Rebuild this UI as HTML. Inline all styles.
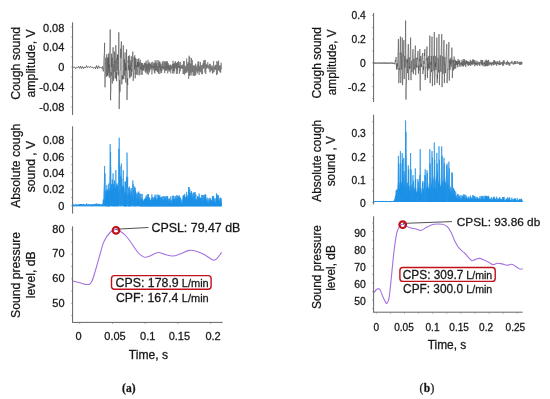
<!DOCTYPE html>
<html lang="en">
<head>
<meta charset="utf-8">
<title>Cough sound figure</title>
<style>
html,body{margin:0;padding:0;background:#fff;}
body{width:550px;height:399px;overflow:hidden;}
svg{display:block;font-family:"Liberation Sans",sans-serif;fill:#141414;}
text{stroke:#222;stroke-width:0.28px;}
</style>
</head>
<body>
<svg width="550" height="399" viewBox="0 0 550 399">
<rect x="0" y="0" width="550" height="399" fill="#fff"/>
<line x1="72.6" y1="22.3" x2="72.6" y2="115" stroke="#646464" stroke-width="1"/>
<path d="M72.2,27h-1.2M72.2,37h-1.2M72.2,47h-1.2M72.2,57h-1.2M72.2,67h-1.2M72.2,77h-1.2M72.2,87h-1.2M72.2,97h-1.2M72.2,107h-1.2" stroke="#646464" stroke-width="0.7" opacity="0.7"/>
<text x="64.3" y="31.7" text-anchor="end" font-size="11">0.08</text>
<text x="64.3" y="51.4" text-anchor="end" font-size="11">0.04</text>
<text x="64.3" y="71.2" text-anchor="end" font-size="11">0</text>
<text x="64.3" y="90.9" text-anchor="end" font-size="11">-0.04</text>
<text x="64.3" y="110.7" text-anchor="end" font-size="11">-0.08</text>
<text transform="translate(19.8,63.4) rotate(-90)" text-anchor="middle" font-size="12.25">Cough sound</text>
<text transform="translate(35.1,63.4) rotate(-90)" text-anchor="middle" font-size="12.25">amplitude, V</text>
<polyline points="72.6,66.3 73.3,67.2 73.6,67.5 74.1,67.3 74.6,67 74.8,67.4 75.6,68.5 76.3,67.4 76.6,67 77.1,67.4 77.6,67.8 77.8,67.4 78.6,66.3 79.3,67.9 79.6,68.4 80.1,67.2 80.6,66 80.8,66.7 81.6,68.6 82.3,67 82.6,66.5 83.1,67.5 83.6,68.6 83.8,68.2 84.6,66.9 85.3,67.7 85.6,68 86.1,66.8 86.6,65.6 86.8,66.1 87.6,67.7 88.3,67 88.6,66.7 89.1,67.3 89.6,67.9 89.8,67.5 90.6,66.2 91.3,67.1 91.6,67.4 92.1,67.3 92.6,67.1 92.8,67.4 93.6,68.3 94.3,67.2 94.6,66.9 95.1,67.8 95.6,68.8 95.8,68 96.6,65.6 97.3,67.8 97.6,68.6 98.1,67.2 98.6,65.8 98.8,66.4 99.6,68.2 100.3,67.4 100.6,67.1 101.1,67.7 101.6,68.3 101.8,67.8 102.5,66.5 102.6,66.8 102.9,69.6 103.3,71.1" fill="none" stroke="#525252" stroke-width="0.85" stroke-linejoin="round" />
<polyline points="103.3,71.1 103.3,71.4 103.6,67.7 103.9,57.6 104.1,55.9 104.4,52.3 104.6,42.8 104.6,52.5 104.9,69 105,87.3 105.1,82 105.3,63.7 105.6,64.1 105.6,62 105.8,57.7 106.1,72.6 106.3,74.4 106.3,77 106.5,70.1 106.8,56 106.8,54.3 107,73.5 107.2,75.3 107.3,73.4 107.5,75.1 107.7,57.9 108,76.1 108.2,57.1 108.5,67.8 108.6,57.1 108.7,53.5 108.9,72.7 109.2,64.5 109.3,77.7 109.4,77.1 109.7,51.5 109.9,47.9 110.1,38.6 110.2,29.5 110.4,69 110.6,100.3 110.6,92.5 110.9,91.2 111.1,72.1 111.3,75.7 111.6,54 111.6,53.7 111.8,67.1 112.1,57.6 112.3,83.5 112.3,83.2 112.5,65.6 112.8,62.8 113,49.9 113.1,47.3 113.3,65 113.5,78.8 113.5,80.8 113.7,78.8 114,64 114.2,71.8 114.5,51.6 114.6,55.1 114.7,63.5 114.9,60.8 115.2,78.3 115.3,74.3 115.4,64.7 115.7,64.2 115.8,45.3 115.9,49.8 116.1,78.8 116.2,78.3 116.4,72.3 116.6,81.2 116.9,58.3 117.1,70.8 117.3,54.3 117.6,59.3 117.6,58 117.8,55 118.1,73.7 118.3,72.2 118.3,75.6 118.5,62 118.8,40.1 118.8,32.3 119,81.6 119.2,109 119.3,98.7 119.5,96.9 119.7,80 120,91.7 120.2,70.1 120.5,70.2 120.6,56.6 120.7,48.7 120.9,58.2 121.2,45.3 121.4,41.3 121.4,49.9 121.7,59.3 121.8,84.3 121.9,80.3 122.1,75.3 122.4,79.3 122.6,76.1 122.8,78.3 122.9,78.3 123.1,57.3 123.3,45.3 123.3,50.6 123.6,68.5 123.7,79.3 123.8,78.5 124.1,70.7 124.3,75.4 124.5,59.3 124.8,70.7 125,52.4 125.1,56.1 125.3,70.5 125.5,63.2 125.7,82.5 125.8,79.1 126,66.7 126.2,70.4 126.5,52.6 126.6,49.3 126.7,71.6 126.9,84.3 127,100 127.2,91.1 127.4,78.3 127.7,84.9 127.9,64.7 128.1,60.7 128.1,62.2 128.4,56.1 128.6,69.2 128.8,65.8 128.9,65.1 129.1,70.7 129.3,57.3 129.4,55.3 129.6,71.1 129.8,78.3 129.8,69.1 130.1,76.8 130.3,66.4 130.5,69.9 130.8,60.6 131,67.2 131.1,61.7 131.3,56.3 131.5,76.3 131.7,69 131.8,71.7 132,70.2 132.2,62.7 132.5,61.1 132.7,55 132.8,51.6 132.9,66.9 133.2,74.2 133.2,80.8 133.4,77.7 133.7,73 133.9,73.5 134.1,56.9 134.4,69.4 134.6,57.1 134.8,55.3 134.9,60.8 135.1,64.5 135.2,78.3 135.3,75.9 135.6,58 135.6,58.1 135.8,66.5 136.1,65 136.3,74.6 136.3,74 136.5,66.2 136.8,67 137,58.9 137.1,59 137.3,66.1 137.5,62.2 137.8,75 137.8,73.4 138.1,62.4 138.3,67.2 138.6,59.6 138.8,58.3 138.8,66 139.1,68.3 139.2,75.3 139.4,74.4 139.7,62.5 139.9,66.2 140.1,59.8 140.2,59.8 140.5,69.4 140.8,66.4 140.8,69.6 141.1,74.8" fill="none" stroke="#525252" stroke-width="0.62" stroke-linejoin="round" />
<polyline points="141.1,74.8 141.4,62.6 141.6,68.1 141.7,70 141.9,63.5 142.2,74.8 142.3,72.4 142.5,63.1 142.8,70.6 143.1,65.1 143.1,64.6 143.4,70.2 143.7,65 143.8,67.6 144,70.8 144.3,62.8 144.6,66.7 144.6,67.8 144.9,63.1 145.3,72.2 145.3,69.4 145.6,62.6 145.9,72.7 146.1,62.7 146.2,60.8 146.5,70.4 146.8,64.1 146.8,67.4 147.1,74.2 147.4,64.2 147.6,70.7 147.7,72.5 148,59.9 148.3,74.8 148.3,71.7 148.6,63.3 148.9,69.7 149.1,63.7 149.2,62.1 149.5,72.5 149.8,63.5 149.8,65.4 150.1,70.3 150.4,63.6 150.6,66.8 150.7,68 151,64.8 151.3,68.8 151.3,67.4 151.6,62.3 151.9,74.5 152.1,68.5 152.2,65.8 152.5,67.9 152.8,61.7 152.8,63.1 153.1,70.2 153.4,63.4 153.6,66.4 153.7,68.1 154,65.7 154.3,72.5 154.3,71.4 154.6,62.7 154.9,73.6 155.1,65.7 155.2,60.2 155.5,70.2 155.8,62.6 155.8,63.1 156.1,70.8 156.4,63.4 156.6,67.1 156.7,70.4 157,60.2 157.3,71.9 157.4,72 157.7,66 158,72.5 158.1,66.9 158.3,60.3 158.6,73.8 158.8,64 158.9,63.1 159.2,67.8 159.5,61.4 159.6,66.2 159.8,74 160.1,61.9 160.3,69.2 160.4,70.6 160.7,64.3 161,72.8 161.1,70.8 161.3,66.2 161.6,73 161.8,65.9 161.9,63.5 162.2,68.1 162.5,61.3 162.6,63.2 162.8,70.3 163.1,66.2 163.3,68 163.5,68.8 163.8,61.1 164.1,68.8 164.1,68 164.4,61.6 164.7,73.2 164.8,69.3 165,66.3 165.3,70.6 165.6,61.6 165.6,61.6 165.9,71 166.2,61 166.3,65.2 166.5,70.3 166.8,62.6 167.1,68.5 167.1,69.1 167.4,61.2 167.7,73.4 167.8,69.9 168.1,63.1 168.4,69.9 168.6,65.7 168.7,64.6 169,71.7 169.3,66.1 169.3,67.2 169.6,71.2 169.9,64.9 170.1,68.3 170.2,70 170.5,64.7 170.8,73.4 170.8,72.6 171.1,65.7 171.4,69.3 171.6,67.4 171.7,65.8 172.1,67.8 172.3,64.2 172.4,64 172.7,73.4 173,60.8 173.1,64.8 173.3,71 173.6,64.1 173.8,71.9 173.9,73.6 174.2,63.3 174.5,71.4 174.6,69.2 174.8,62.5 175.1,68.2 175.3,63.5 175.4,61.2 175.8,68.4 176.1,63.3 176.1,64.4 176.4,74 176.7,63.2 176.8,66.8 177,70 177.3,62 177.6,73.2 177.6,73.8 177.9,62.7 178.2,68 178.3,65.5 178.5,60.9 178.9,67.8 179.1,63.8 179.2,62.3 179.5,73.8 179.8,65.9 179.9,65.9 180.2,71.3 180.5,61.9 180.6,63.3 180.9,68.9 181.2,65.1 181.3,66.1 181.6,68.2 182,65.7 182.1,66.8 182.3,68.6 182.7,64.6 182.8,68.2 183.1,73.9 183.5,61.1 183.6,65.6 183.9,74.2 184.3,61.1 184.3,64.3 184.7,74.8 185.1,65.5 185.1,66.3 185.5,72.9 185.8,66.7 185.9,66.6 186.3,72.5 186.6,60.6 186.7,58.5 187.1,72.6 187.3,66.1 187.5,63.6 187.9,71 188.1,65.7 188.3,62 188.7,78.9 188.8,68.5 189.1,55.7 189.5,75.7 189.6,70 189.9,57.2 190.3,75.4 190.3,73.4 190.7,63.7 191.1,72.8 191.1,72.3 191.5,58.1 191.8,73.6 191.9,75.6 192.3,60.1 192.6,69 192.7,72.1 193.1,65.7 193.3,71.6 193.5,75.5 193.9,65.1 194.1,69.9 194.3,75.8 194.7,65.8 194.8,68.8 195.1,75.9 195.5,63.7 195.6,65.3 195.9,74.6 196.3,66.9 196.4,66.8 196.8,71.5 197.1,65.9 197.2,64.7 197.6,73.5 197.8,65.4 198,61.5 198.4,71.4 198.6,66.2 198.8,61.5 199.2,75 199.3,71.9 199.6,66.2 200,71.7 200.1,69.8 200.4,62 200.8,72.3 200.8,72.1 201.2,65 201.6,72.9 201.7,74.2 202.1,65.1 202.3,71.4 202.5,74.1 202.9,63.3 203.1,66.2 203.3,68.8 203.7,60.4 203.8,63.2 204.1,68.3 204.5,60.5 204.6,62.7 204.9,72.6 205.3,59.9 205.3,59.9 205.8,74.1 206.1,65.5 206.2,63.8 206.6,68.7 206.8,66.2 207,64.9 207.4,67.7 207.6,65.1 207.8,62.1 208.2,68.3 208.3,67.5 208.6,65.6 209.1,69.4 209.1,68.9 209.5,64.1 209.8,71.7 209.9,72.4 210.3,63.8 210.6,69.2 210.7,71.3 211.1,66.2 211.3,68.4 211.5,70.2 212,65.3 212.1,68.2 212.4,73.5 212.8,66.7 212.8,67.7 213.2,72.8 213.6,61.5 213.6,61 214,72.1 214.3,67.8 214.4,66.5 214.9,69.8 215.1,67.1 215.3,64.9 215.7,69.8 215.8,68 216.1,64.8 216.5,75.1 216.6,72.8 216.9,61 217.3,73.7 217.4,74.2 217.8,61.8 218.1,68.1 218.2,70.1 218.6,60.5 218.8,66.2 219,70.9 219.5,65.7 219.6,68 219.9,72.3 220.3,65.4 220.3,66.3 220.7,72.6 221.1,63.5 221.1,62.6 221.6,69.3" fill="none" stroke="#5c5c5c" stroke-width="0.56" stroke-linejoin="round" />
<line x1="72.6" y1="126.3" x2="72.6" y2="213.6" stroke="#646464" stroke-width="1"/>
<path d="M72.2,140.1h-1.2M72.2,148.3h-1.2M72.2,156.5h-1.2M72.2,164.7h-1.2M72.2,172.9h-1.2M72.2,181.1h-1.2M72.2,189.3h-1.2M72.2,197.5h-1.2M72.2,205.7h-1.2" stroke="#646464" stroke-width="0.7" opacity="0.7"/>
<text x="64.3" y="144.1" text-anchor="end" font-size="11">0.08</text>
<text x="64.3" y="160.5" text-anchor="end" font-size="11">0.06</text>
<text x="64.3" y="176.9" text-anchor="end" font-size="11">0.04</text>
<text x="64.3" y="193.3" text-anchor="end" font-size="11">0.02</text>
<text x="64.3" y="209.6" text-anchor="end" font-size="11">0</text>
<text transform="translate(19.9,165.8) rotate(-90)" text-anchor="middle" font-size="12.2">Absolute cough</text>
<text transform="translate(34.7,166.5) rotate(-90)" text-anchor="middle" font-size="12.2">sound , V</text>
<polygon points="72.6,206.2 72.6,204.9 73,204.6 73.5,204 74,204.9 74.4,204.7 74.9,204.9 75.3,204.6 75.8,204.1 76.2,204.6 76.7,204.2 77.1,204.9 77.6,203.9 78,204.8 78.5,204.7 78.9,204.3 79.4,203.9 79.8,204 80.3,203.7 80.7,204 81.2,204.5 81.6,204.4 82.1,204.1 82.5,204.6 83,203.9 83.4,203.8 83.9,204 84.3,204.3 84.8,204.7 85.2,204.6 85.7,204.6 86.1,204.5 86.6,204.4 87,204.3 87.5,204.7 87.9,204 88.4,204 88.8,203.9 89.3,204.6 89.7,204.2 90.2,204.1 90.6,204.5 91.1,204.4 91.5,203.9 92,204.2 92.4,203.8 92.9,204.3 93.3,203.9 93.8,203.9 94.2,204 94.7,203.8 95.1,204.1 95.6,204.4 96,204.6 96.5,203.9 96.9,204.8 97.4,204.4 97.8,204.7 98.3,204.2 98.7,203.8 99.2,204.5 99.6,203.9 100.1,204 100.5,204.1 101,204.6 101.4,203.9 101.9,204.4 102.3,204 102.8,204.4 103.2,201.3 103.7,199.2 104.1,199.6 104.6,197.9 105,192.5 105.5,195.5 105.9,194.9 106.4,197.3 106.8,191.5 107.3,189.3 107.7,187.7 108.2,194.1 108.6,186.8 109.1,193.5 109.5,190.9 110,190.4 110.4,187.7 110.9,187.9 111.3,187.1 111.8,186.7 112.2,181.1 112.7,189.9 113.1,190.4 113.6,182.4 114,189 114.5,184.1 114.9,180.7 115.4,192 115.8,182.5 116.3,192.4 116.7,186 117.2,186.9 117.6,183.4 118.1,182.2 118.5,192.4 119,192.3 119.4,185.9 119.9,185.1 120.3,192.3 120.8,187.2 121.2,193 121.7,189.8 122.1,184.5 122.6,186.4 123,188.4 123.5,191.2 123.9,186.9 124.4,189.2 124.8,196.6 125.3,190.5 125.7,191.8 126.2,193 126.6,193.7 127.1,194.6 127.5,195.6 128,192 128.4,192.8 128.9,197.4 129.3,193.3 129.8,193.5 130.2,194.1 130.7,197.8 131.1,197.3 131.6,197.8 132,193.9 132.5,193.9 132.9,196 133.4,199.2 133.8,199.3 134.3,198.1 134.7,199.7 135.2,197.6 135.6,199.1 136.1,200.1 136.5,199.8 137,199.2 137.4,197.6 137.9,199.6 138.3,198.7 138.8,199.7 139.2,201 139.7,201.1 140.1,200.4 140.6,200.7 141,201.5 141.5,198.5 141.9,199.8 142.4,200.8 142.8,198.5 143.3,200.5 143.7,201.1 144.2,200.4 144.6,199 145.1,200.6 145.5,200.7 146,198 146.4,199.4 146.9,198.5 147.3,197.8 147.8,200.6 148.2,199.4 148.7,201.1 149.1,197.4 149.6,198.1 150,198.8 150.5,200.8 150.9,197.3 151.4,201.5 151.8,199.8 152.3,197.5 152.7,200.3 153.2,198.2 153.6,197.3 154.1,198.5 154.5,200.3 155,197.3 155.4,199.9 155.9,197.4 156.3,201.1 156.8,197.5 157.2,198.3 157.7,201.5 158.1,198.7 158.6,200.7 159,199.4 159.5,199.4 159.9,201.2 160.4,198 160.8,197.4 161.3,199.1 161.7,199.9 162.2,198.7 162.6,199.9 163.1,199 163.5,199.8 164,201 164.4,197.9 164.9,200.1 165.3,201.2 165.8,201.5 166.2,199.6 166.7,201.1 167.1,198.5 167.6,201.4 168,201.7 168.5,201.3 168.9,198.1 169.4,198.5 169.8,197.8 170.3,198.1 170.7,200.7 171.2,199.4 171.6,199.3 172.1,200.4 172.5,200 173,200.5 173.4,201.3 173.9,198.3 174.3,198.4 174.8,201.7 175.2,200.6 175.7,200.5 176.1,198.1 176.6,199.4 177,199.6 177.5,200.5 177.9,199 178.4,197.8 178.8,197.2 179.3,201.6 179.7,199.3 180.2,201.5 180.6,197.7 181.1,198.5 181.5,199.5 182,199.8 182.4,200.9 182.9,196.6 183.3,196.3 183.8,196 184.2,195.9 184.7,200.6 185.1,195.8 185.6,200.4 186,194.9 186.5,196 186.9,195.1 187.4,195.7 187.8,194.6 188.3,195.5 188.7,194.3 189.2,199.7 189.6,195.4 190.1,194.2 190.5,194.2 191,199.7 191.4,197.2 191.9,196.8 192.3,199.1 192.8,198.1 193.2,196 193.7,195.5 194.1,197.4 194.6,196.4 195,200.5 195.5,198.9 195.9,200.8 196.4,200.3 196.8,198.5 197.3,197.8 197.7,199.8 198.2,198 198.6,196.8 199.1,197.4 199.5,198.3 200,197.7 200.4,199.5 200.9,198.1 201.3,197.7 201.8,201 202.2,201 202.7,199.5 203.1,197.1 203.6,199.1 204,196.9 204.5,199.7 204.9,199.7 205.4,196.8 205.8,199.3 206.3,198.7 206.7,197.3 207.2,199.6 207.6,201.2 208.1,198.4 208.5,199.6 209,199.1 209.4,199.9 209.9,198.1 210.3,198.9 210.8,197.4 211.2,199.6 211.7,200.2 212.1,198.8 212.6,197.7 213,196.9 213.5,200.2 213.9,201.1 214.4,199.6 214.8,197.9 215.3,198.6 215.7,198 216.2,199.2 216.6,200.1 217.1,198.9 217.5,198.4 218,199 218.4,201.7 218.9,200.5 219.3,200 219.8,200.6 220.2,201.4 220.7,199.3 221.1,202.1 221.6,200.3 221.6,206.2" fill="#1b8fe6" fill-opacity="0.75"/>
<polyline points="72.6,204.6 73.3,206.1 73.4,206.2 73.6,205.8 74.1,206.2 74.1,206.2 74.6,205.8 74.8,206.2 74.8,206 75.6,204.3 76.3,206 76.4,206.2 76.6,205.8 77,206.2 77.1,206 77.6,205.4 77.8,206 77.9,206.2 78.6,204.6 79.1,206.2 79.3,205.2 79.6,204.4 80.1,206.2 80.1,206.1 80.6,204.1 80.8,205.2 81.1,206.2 81.6,204 82.2,206.2 82.3,205.7 82.6,204.8 83,206.2 83.1,205.8 83.6,204 83.8,204.7 84.4,206.2 84.6,205.5 85,206.2 85.3,205.6 85.6,205.1 85.9,206.2 86.1,205.3 86.6,203.4 86.8,204.3 87.4,206.2 87.6,205.5 88,206.2 88.3,205.7 88.6,205.3 89.1,206.2 89.1,206.2 89.6,205.2 89.8,205.9 90,206.2 90.6,204.5 91.3,205.9 91.5,206.2 91.6,206 92,206.2 92.1,206.2 92.6,205.9 92.7,206.2 92.8,206 93.6,204.5 94.3,206.2 94.3,206.1 94.6,205.5 94.8,206.2 95.1,205.4 95.6,203.8 95.8,205.1 96.1,206.2 96.6,203.4 97.2,206.2 97.3,205.3 97.6,204.1 98.1,206.2 98.1,206 98.6,203.8 98.8,204.7 99.2,206.2 99.6,204.7 100.3,206.1 100.4,206.2 100.6,205.9 100.8,206.2 101.1,205.6 101.6,204.6 101.8,205.4 102.1,206.2 102.5,204.8 102.6,205.4 102.7,206.2 102.9,202.5 103.3,199.9 103.3,199.5 103.6,205.6 103.6,206.2 103.9,190.4 104.1,187.4 104.4,181.6 104.6,166 104.6,182 104.8,206.2 104.9,203.4 105,173.4 105.1,182.1 105.3,206.2 105.3,200.2 105.6,201 105.6,197.6 105.8,190.5 106,206.2 106.1,197.6 106.3,194.6 106.3,190.2 106.5,201.5 106.6,206.2 106.8,187.6 106.8,184.9 106.9,206.2 107,196 107.2,193.1 107.3,196.2 107.5,193.4 107.6,206.2 107.7,190.8 107.9,206.2 108,191.7 108.1,206.2 108.2,189.5 108.4,206.2 108.5,205.4 108.5,206.2 108.6,189.5 108.7,183.6 108.9,206.2 108.9,197.3 109.1,206.2 109.2,201.6 109.2,206.2 109.3,189.2 109.4,190.1 109.5,206.2 109.7,180.3 109.9,174.4 110.1,159.1 110.2,144.2 110.4,206.2 110.4,203.4 110.6,152.1 110.6,164.8 110.9,167 111.1,198.4 111.3,192.4 111.4,206.2 111.6,184.4 111.6,183.9 111.8,205.8 112.1,190.2 112.1,206.2 112.3,179.7 112.3,180.1 112.5,206.2 112.5,203.4 112.8,198.8 113,177.7 113.1,173.4 113.3,202.4 113.3,206.2 113.5,187.3 113.5,184.1 113.7,187.3 113.9,206.2 114,200.8 114.1,206.2 114.2,198.8 114.3,206.2 114.5,180.4 114.6,186.2 114.7,200 114.9,195.6 115,206.2 115.2,188.2 115.3,194.8 115.4,206.2 115.4,202 115.7,201.1 115.8,170.1 115.9,177.4 116,206.2 116.1,187.3 116.2,188.2 116.4,198 116.6,183.5 116.8,206.2 116.9,191.5 117,206.2 117.1,200.5 117.2,206.2 117.3,184.9 117.6,193 117.6,191 117.8,186 118,206.2 118.1,195.7 118.3,198.1 118.3,192.6 118.5,206.2 118.5,197.5 118.8,161.5 118.8,148.8 119,206.2 119,182.8 119.2,137.8 119.3,154.7 119.5,157.7 119.7,185.4 120,166.2 120.2,201.7 120.5,201.5 120.5,206.2 120.6,188.7 120.7,175.8 120.9,191.4 121.2,170.2 121.4,163.6 121.4,177.7 121.7,193.2 121.7,206.2 121.8,178.3 121.9,184.9 122.1,193.1 122.4,186.6 122.6,191.7 122.8,188.1 122.9,188.1 123,206.2 123.1,189.7 123.3,170.1 123.3,178.8 123.6,206.2 123.6,204.3 123.7,186.5 123.8,187.8 124.1,200.6 124.3,192.9 124.4,206.2 124.5,193.1 124.7,206.2 124.8,200.7 124.8,206.2 125,181.7 125.1,187.9 125.2,206.2 125.3,200.9 125.4,206.2 125.5,199.5 125.6,206.2 125.7,181.4 125.8,186.9 126,206.2 126,205.2 126,206.2 126.2,201.2 126.3,206.2 126.5,182 126.6,176.7 126.7,206.2 126.7,199.2 126.9,178.4 127,152.6 127.2,167.2 127.4,188.1 127.7,177.4 127.9,206.2 127.9,202 128.1,195.3 128.1,197.8 128.4,187.8 128.6,206.2 128.6,203.2 128.7,206.2 128.8,203.7 128.9,202.7 129,206.2 129.1,200.6 129.2,206.2 129.3,189.7 129.4,186.5 129.5,206.2 129.6,199.9 129.8,188.2 129.8,203.3 130.1,190.6 130.3,206.2 130.3,204.7 130.4,206.2 130.5,201.9 130.6,206.2 130.8,195.2 131,206 131.1,197 131.3,188.1 131.4,206.2 131.5,191.5 131.7,203.4 131.8,199 132,201.4 132.1,206.2 132.2,198.6 132.5,196.1 132.7,186 132.8,180.5 132.9,205.6 133,206.2 133.2,194.9 133.2,184.1 133.4,189.2 133.7,196.9 133.9,196.1 134,206.2 134.1,189.1 134.3,206.2 134.4,202.8 134.4,206.2 134.6,189.5 134.8,186.5 134.9,195.5 135.1,201.6 135.1,206.2 135.2,188.2 135.3,192.1 135.5,206.2 135.6,191 135.6,191 135.8,204.8 136.1,202.4 136.1,206.2 136.3,194.2 136.3,195.2 136.5,206.2 136.5,204.5 136.8,205.7 137,192.5 137.1,192.5 137.3,204.2 137.5,197.9 137.6,206.2 137.8,193.5 137.8,196.2 138,206.2 138.1,198.2 138.3,206 138.6,193.5 138.8,191.4 138.8,204.1 139,206.2 139.1,204.6 139.2,193.1 139.4,194.5 139.5,206.2 139.7,198.3 139.9,204.4 140.1,193.9 140.2,193.9 140.4,206.2 140.5,202.7 140.7,206.2 140.8,204.7 140.8,206.2 140.8,202.4 141.1,193.9 141.2,206.2 141.4,198.5 141.6,206.2 141.6,204.9 141.7,201.7 141.8,206.2 141.9,199.9 142,206.2 142.2,193.9 142.3,197.8 142.5,206.2 142.5,199.4 142.7,206.2 142.8,200.7 143,206.2 143.1,202.5 143.1,201.7 143.3,206.2 143.4,201.5 143.6,206.2 143.7,202.3 143.8,206.2 143.8,205.6 144,200.4 144.2,206.2 144.3,198.8 144.6,205.2 144.6,206.2 144.6,205.3 144.7,206.2 144.9,199.3 145.1,206.2 145.3,198.2 145.3,202.7 145.4,206.2 145.6,198.5 145.7,206.2 145.9,197.4 146,206.2 146.1,198.7 146.2,195.6 146.4,206.2 146.5,201 146.6,206.2 146.8,200.9 146.8,206.2 146.8,206 147.1,194.9 147.3,206.2 147.4,201.1 147.5,206.2 147.6,200.6 147.7,197.6 147.8,206.2 148,194 148.1,206.2 148.3,194 148.3,199 148.5,206.2 148.6,199.7 148.8,206.2 148.9,202.3 149,206.2 149.1,200.2 149.2,197.6 149.3,206.2 149.5,197.7 149.6,206.2 149.8,200 149.8,203 149.9,206.2 150.1,201.2 150.2,206.2 150.4,200.2 150.6,205.4 150.6,206.2 150.7,205 150.7,206.2 151,202.1 151.2,206.2 151.3,203.8 151.3,206 151.4,206.2 151.6,198 151.7,206.2 151.9,194.4 152.1,204.3 152.1,206.2 152.2,203.8 152.4,206.2 152.5,205.3 152.5,206.2 152.8,197 152.8,199.4 153,206.2 153.1,201.5 153.2,206.2 153.4,199.8 153.6,204.8 153.7,206.2 153.7,204.9 153.8,206.2 154,203.6 154.1,206.2 154.3,197.6 154.3,199.5 154.5,206.2 154.6,198.7 154.7,206.2 154.9,195.8 155.1,206.2 155.1,203.6 155.2,194.6 155.4,206.2 155.5,201.5 155.6,206.2 155.8,198.5 155.8,199.3 156,206.2 156.1,200.5 156.3,206.2 156.4,199.8 156.6,205.8 156.6,206.2 156.7,201.2 156.8,206.2 157,194.5 157.2,206.2 157.3,198.7 157.4,198.5 157.6,206.2 157.7,204 157.7,206.2 158,197.7 158.1,206.2 158.1,205.6 158.3,194.7 158.4,206.2 158.6,195.5 158.8,206.2 158.8,200.7 158.9,199.3 159.1,206.2 159.2,205.4 159.2,206.2 159.5,196.6 159.6,204.4 159.6,206.2 159.8,195.1 160,206.2 160.1,197.4 160.3,206.2 160.3,203.1 160.4,200.8 160.6,206.2 160.7,201.3 160.8,206.2 161,197.3 161.1,200.5 161.3,206.2 161.3,204.4 161.4,206.2 161.6,196.8 161.8,206.2 161.8,203.8 161.9,200 162.2,206.2 162.2,204.8 162.3,206.2 162.5,196.4 162.6,199.5 162.7,206.2 162.8,201.2 163.1,206.2 163.1,204.4 163.3,206.2 163.3,205.1 163.5,203.7 163.5,206.2 163.8,196 164,206.2 164.1,203.7 164.1,205 164.1,206.2 164.4,196.8 164.5,206.2 164.7,196.6 164.8,202.9 164.9,206.2 165,204.6 165.1,206.2 165.3,200.7 165.4,206.2 165.6,196.8 165.6,196.9 165.8,206.2 165.9,200.1 166,206.2 166.2,195.9 166.3,202.8 166.4,206.2 166.5,201.4 166.6,206.2 166.8,198.6 167,206.2 167.1,204.3 167.1,203.2 167.2,206.2 167.4,196.2 167.6,206.2 167.7,196.2 167.8,202 167.9,206.2 168.1,199.3 168.2,206.2 168.4,202 168.5,206.2 168.6,203.6 168.7,201.7 168.8,206.2 169,198.9 169.2,206.2 169.3,204.2 169.3,206 169.4,206.2 169.6,199.9 169.8,206.2 169.9,202.3 170,206.2 170.1,204.6 170.2,201.8 170.4,206.2 170.5,202 170.6,206.2 170.8,196.2 170.8,197.5 171.1,206.2 171.1,203.6 171.3,206.2 171.4,203 171.6,206 171.6,206.2 171.7,203.8 172,206.2 172.1,205.4 172.1,206.2 172.3,201.1 172.4,200.8 172.5,206.2 172.7,196.1 172.8,206.2 173,195.5 173.1,202.1 173.2,206.2 173.3,200.1 173.5,206.2 173.6,200.9 173.7,206.2 173.8,198.6 173.9,195.9 174.1,206.2 174.2,199.7 174.4,206.2 174.5,199.5 174.6,203.1 174.7,206.2 174.8,198.3 175.1,206.2 175.1,204.7 175.2,206.2 175.3,199.9 175.4,196.2 175.7,206.2 175.8,204.4 175.8,206.2 176.1,199.6 176.1,201.5 176.2,206.2 176.4,195.2 176.6,206.2 176.7,199.5 176.8,205.3 176.9,206.2 177,201.8 177.1,206.2 177.3,197.5 177.4,206.2 177.6,196.5 177.6,195.5 177.8,206.2 177.9,198.7 178.2,206.2 178.2,205 178.3,206.2 178.3,203.2 178.5,195.8 178.8,206.2 178.9,205.4 178.9,206.2 179.1,200.5 179.2,198 179.3,206.2 179.5,195.5 179.8,206.2 179.8,203.9 179.9,203.8 179.9,206.2 180.2,199.6 180.3,206.2 180.5,197.4 180.6,199.7 180.8,206.2 180.9,203.5 181,206.2 181.2,202.6 181.3,204.3 181.5,206.2 181.6,204.7 181.7,206.2 182,203.5 182.1,205.4 182.2,206.2 182.3,204 182.4,206.2 182.7,201.7 182.8,206.2 182.8,204.7 183.1,195.5 183.3,206.2 183.5,196 183.6,203.3 183.7,206.2 183.9,194.8 184.1,206.2 184.3,196.1 184.3,201.3 184.4,206.2 184.7,193.9 185,206.2 185.1,203.2 185.1,204.5 185.2,206.2 185.5,197 185.8,206.2 185.8,205.3 185.9,205.1 185.9,206.2 186.3,197.6 186.4,206.2 186.6,195.2 186.7,191.8 186.9,206.2 187.1,197.5 187.3,206.2 187.3,204.3 187.5,200.1 187.7,206.2 187.9,200.1 188,206.2 188.1,203.6 188.3,197.4 188.4,206.2 188.7,187.1 188.8,204.2 188.9,206.2 189.1,187.2 189.3,206.2 189.5,192.4 189.6,201.8 189.7,206.2 189.9,189.6 190.1,206.2 190.3,192.9 190.3,196.2 190.6,206.2 190.7,200.4 190.8,206.2 191.1,197.2 191.1,198 191.2,206.2 191.5,191.1 191.7,206.2 191.8,195.8 191.9,192.6 192.1,206.2 192.3,194.4 192.5,206.2 192.6,203.4 192.7,198.4 193,206.2 193.1,203.6 193.2,206.2 193.3,199.2 193.5,192.7 193.8,206.2 193.9,202.5 194,206.2 194.1,202 194.3,192.3 194.7,206.2 194.7,203.8 194.8,206.2 194.8,203.7 195.1,192.1 195.4,206.2 195.5,200.3 195.6,202.9 195.7,206.2 195.9,194.3 196.3,206.2 196.3,205.5 196.4,205.4 196.4,206.2 196.8,199.2 197,206.2 197.1,203.8 197.2,202 197.3,206.2 197.6,196.1 197.8,206.2 197.8,203 198,196.7 198.2,206.2 198.4,199.5 198.6,206.2 198.6,204.4 198.8,196.6 199,206.2 199.2,193.5 199.3,198.7 199.6,206.2 199.6,204.5 199.7,206.2 200,199 200.1,202.1 200.2,206.2 200.4,197.6 200.6,206.2 200.8,198 200.8,198.4 201.1,206.2 201.2,202.4 201.3,206.2 201.6,196.9 201.7,194.9 202,206.2 202.1,202.5 202.2,206.2 202.3,199.6 202.5,195 202.7,206.2 202.9,199.6 203.1,204.4 203.2,206.2 203.3,203.7 203.4,206.2 203.7,194.9 203.8,199.5 204.1,206.2 204.1,204.5 204.2,206.2 204.5,195.1 204.6,198.6 204.8,206.2 204.9,197.6 205.1,206.2 205.3,194 205.3,194.1 205.6,206.2 205.8,195.1 206,206.2 206.1,203.3 206.2,200.4 206.5,206.2 206.6,203.8 206.7,206.2 206.8,204.5 207,202.2 207.3,206.2 207.4,205.5 207.4,206.2 207.6,202.6 207.8,197.7 208.2,206.2 208.2,204.6 208.3,205.8 208.4,206.2 208.6,203.5 208.8,206.2 209.1,202.7 209.1,203.6 209.2,206.2 209.5,201 209.6,206.2 209.8,199 209.9,197.9 210.1,206.2 210.3,200.5 210.5,206.2 210.6,203 210.7,199.7 211,206.2 211.1,204.4 211.2,206.2 211.3,204.4 211.5,201.4 211.8,206.2 212,202.9 212.1,206.2 212.1,204.8 212.4,196 212.8,206.2 212.8,205.3 212.8,206.2 212.8,205.6 213.2,197.2 213.4,206.2 213.6,196.7 213.6,195.9 213.9,206.2 214,198.4 214.3,205.4 214.4,206.2 214.4,204.9 214.6,206.2 214.9,202.1 215.1,206.2 215.1,205.8 215.3,202.3 215.5,206.2 215.7,202 215.8,205 215.9,206.2 216.1,202.2 216.2,206.2 216.5,193.3 216.6,197.1 216.8,206.2 216.9,195.8 217.1,206.2 217.3,195.7 217.4,194.8 217.6,206.2 217.8,197.2 218.1,206.2 218.1,204.9 218.2,201.6 218.3,206.2 218.6,195 218.8,204.4 218.9,206.2 219,200.3 219.3,206.2 219.5,203.6 219.6,206.2 219.6,205.1 219.9,198 220.2,206.2 220.3,203 220.3,204.6 220.4,206.2 220.7,197.5 220.9,206.2 221.1,199.9 221.1,198.5 221.4,206.2 221.6,203" fill="#1b8fe6" stroke="#1b8fe6" stroke-width="0.65" stroke-linejoin="round" fill-opacity="0.5"/>
<line x1="72.6" y1="226.3" x2="72.6" y2="322.4" stroke="#646464" stroke-width="1"/>
<path d="M72.2,229.8h-1.2M72.2,242.1h-1.2M72.2,254.3h-1.2M72.2,266.6h-1.2M72.2,278.8h-1.2M72.2,291.1h-1.2M72.2,303.3h-1.2M72.2,315.6h-1.2" stroke="#646464" stroke-width="0.7" opacity="0.7"/>
<line x1="72.1" y1="322.4" x2="222.6" y2="322.4" stroke="#646464" stroke-width="1"/>
<path d="M79.7,322.8v1.2M112.5,322.8v1.2M145.2,322.8v1.2M177.9,322.8v1.2M210.7,322.8v1.2" stroke="#646464" stroke-width="0.7" opacity="0.7"/>
<text x="64.6" y="232.5" text-anchor="end" font-size="11">80</text>
<text x="64.6" y="257.3" text-anchor="end" font-size="11">70</text>
<text x="64.6" y="281.9" text-anchor="end" font-size="11">60</text>
<text x="64.6" y="306.6" text-anchor="end" font-size="11">50</text>
<text x="78.6" y="340.2" text-anchor="middle" font-size="11">0</text>
<text x="115" y="340.2" text-anchor="middle" font-size="11">0.05</text>
<text x="147.7" y="340.2" text-anchor="middle" font-size="11">0.1</text>
<text x="179.4" y="340.2" text-anchor="middle" font-size="11">0.15</text>
<text x="213.1" y="340.2" text-anchor="middle" font-size="11">0.2</text>
<text transform="translate(19.9,274.9) rotate(-90)" text-anchor="middle" font-size="12.2">Sound pressure</text>
<text transform="translate(34.9,274.8) rotate(-90)" text-anchor="middle" font-size="12.2">level, dB</text>
<text x="148.4" y="359" text-anchor="middle" font-size="12.1">Time, s</text>
<path d="M72.9,281 C74.1,281.3 77.8,282.2 80,282.8 C82.2,283.4 84.4,284.2 86,284.4 C87.6,284.6 88.5,284.8 89.5,284.2 C90.5,283.6 91.1,283 92,281 C92.9,279 93.6,276.7 95,272 C96.4,267.3 98.9,258.2 100.4,253 C101.9,247.8 102.5,244.5 104.2,241 C105.9,237.5 108.6,233.9 110.5,232 C112.4,230.1 114,229.6 115.6,229.4 C117.2,229.2 118.3,229.9 120,231 C121.7,232.1 124,233.8 126,236 C128,238.2 130,241.2 132,244 C134,246.8 136.2,250.4 138,252.5 C139.8,254.6 141.7,255.8 143,256.6 C144.3,257.4 144.8,257.3 146,257.2 C147.2,257.1 148,256.8 150,256 C152,255.2 155.5,252.8 158,252.5 C160.5,252.2 162.5,253.9 165,254.5 C167.5,255.1 170.5,256.1 173,256 C175.5,255.9 177.3,254.9 180,254 C182.7,253.1 186.2,250.8 189,250.4 C191.8,250 194.3,250.7 197,251.5 C199.7,252.3 202.3,253.6 205,255 C207.7,256.4 211,259.4 213,260 C215,260.6 215.6,259.8 217,258.5 C218.4,257.2 220.8,253.4 221.6,252.4" fill="none" stroke="#a272e0" stroke-width="1.1"/>
<line x1="116" y1="229.2" x2="148.4" y2="227.5" stroke="#484848" stroke-width="0.95"/>
<circle cx="116" cy="230.3" r="3.35" fill="none" stroke="#c0101a" stroke-width="2.1"/>
<text x="151.5" y="232.1" font-size="12.4">CPSL: 79.47 dB</text>
<rect x="111.5" y="275.6" width="99.6" height="13.7" rx="3" ry="3" fill="none" stroke="#c0101a" stroke-width="1.4"/>
<text x="115.6" y="286.7" font-size="12.35">CPS: 178.9</text><text x="181.8" y="286.7" font-size="11">L/min</text>
<text x="115.9" y="301.6" font-size="12.35">CPF: 167.4</text><text x="181.8" y="301.6" font-size="11">L/min</text>
<text x="128.8" y="391.8" text-anchor="middle" font-size="11.5" font-family="'Liberation Serif',serif" font-weight="bold">(a)</text>
<line x1="373.6" y1="13" x2="373.6" y2="102" stroke="#646464" stroke-width="1"/>
<path d="M373.2,15.5h-1.2M373.2,27.4h-1.2M373.2,39.2h-1.2M373.2,51h-1.2M373.2,62.9h-1.2M373.2,74.8h-1.2M373.2,86.6h-1.2M373.2,98.5h-1.2" stroke="#646464" stroke-width="0.7" opacity="0.7"/>
<text x="365.8" y="19.1" text-anchor="end" font-size="10.3">0.4</text>
<text x="365.8" y="43" text-anchor="end" font-size="10.3">0.2</text>
<text x="365.8" y="67" text-anchor="end" font-size="10.3">0</text>
<text x="365.8" y="91" text-anchor="end" font-size="10.3">-0.2</text>
<text transform="translate(321.2,62.8) rotate(-90)" text-anchor="middle" font-size="12">Cough sound</text>
<text transform="translate(335.6,62.3) rotate(-90)" text-anchor="middle" font-size="11.9">amplitude, V</text>
<polyline points="373.6,62.6 374.2,63.2 374.2,63.2 374.8,62.9 374.8,62.9 375.3,63.3 375.4,63.4 375.9,62.7 376,62.6 376.5,63.1 376.6,63.2 377,63 377.2,62.9 377.6,63.3 377.8,63.4 378.2,62.9 378.4,62.7 378.8,63 379,63.2 379.3,62.9 379.6,62.6 379.9,63.1 380.2,63.4 380.5,63.1 380.8,62.8 381.1,63 381.4,63.3 381.6,63.2 382,62.9 382.2,63.2 382.6,63.6 382.8,63.3 383.2,62.5 383.4,62.7 383.8,63.2 383.9,63.2 384.4,62.9 384.5,63.1 385,63.5 385.1,63.4 385.6,62.6 385.7,62.8 386.2,63.6 386.2,63.5 386.8,62.9 386.8,62.9 387.4,63.2 387.4,63.2 388,63 388,63 388.5,63.3 388.6,63.3 389.1,62.8 389.2,62.7 389.7,63.5 389.8,63.6 390.3,63.2 390.4,63.1 390.8,63.1 391,63.2 391.4,62.8 391.6,62.7 392,63.2 392.2,63.5 392.6,63.2 392.8,63 393.1,63.1 393.4,63.5 393.7,63.6 393.9,62.9 394.3,63.1 394.4,63.7 394.7,62.9 394.9,64.3 395,64.4 395.3,60.1 395.4,61.2 395.5,61.5 395.8,59.3 396,58.9 396.1,57.1 396.3,61.9 396.5,69.1 396.5,69 396.8,64.3 397,69.7 397.2,66.3 397.3,63.2 397.5,66.5 397.7,59.7 397.8,58.4 398,53 398.3,45.9 398.4,39.1 398.5,58.7 398.8,79.1 398.8,83.1 399,78.5 399.3,67.9 399.5,69.8 399.5,69.6 399.8,53.2 400,53.6 400.3,42.2 400.4,36.6 400.5,55.9 400.8,76.2 400.8,83.1 401,67.6 401.2,52.7 401.3,53.6 401.5,69.4 401.8,65 401.8,64.9 402,55.5 402.2,37.6 402.3,42.6 402.5,80.3 402.6,85.1 402.8,76.3 403,72 403.3,55.3 403.5,56.1 403.8,44.4 403.8,40.1 404,63.6 404.2,79.1 404.3,72.9 404.5,65 404.6,56.2 404.8,56.9 405,67.7 405.2,63.6 405.3,55.1 405.5,32.5 405.6,20.6 405.8,48.9 406,99.6 406,91 406.3,83.8 406.5,83 406.8,60.8 406.9,58.9 407,62.9 407.3,59.8 407.5,73.1 407.5,73.1 407.8,56.9 408,54.9 408.3,46.3 408.3,44.1 408.5,68.3 408.7,80.1 408.8,73.6 409,69.9 409.2,57.2 409.3,57.3 409.5,68.5 409.8,66.4 409.8,68.6 410,66.1 410.3,48.3 410.5,43.3 410.6,37.6 410.8,50.7 411,80.1 411,76.2 411.3,64.5 411.5,63.9 411.5,62.2 411.8,60.7 412,72.2 412.1,70.8 412.3,62.1 412.5,61.9 412.8,50.7 413,49.1 413,51.6 413.3,61.8 413.4,74.1 413.5,72 413.8,60.6 413.8,58.8 414,63.4 414.3,64.3 414.4,69.6 414.5,68.8 414.8,57.9 415,54.7 415.3,49.4 415.3,45.6 415.5,63.3 415.7,75.1 415.8,68.1 416,65.3 416.1,58.1 416.3,57.7 416.5,67.3 416.7,67.1 416.8,65.5 417,67.5 417.3,58.1 417.3,58.1 417.5,59.1 417.8,52.8 418,51.1 418,53.5 418.3,62.6 418.4,73.1 418.5,73.6 418.8,65.4 419,70.6 419,70.6 419.3,59.1 419.5,60.8 419.8,52.1 419.8,49.1 420,76.9 420.2,90.6 420.3,82.5 420.5,71.5 420.7,56 420.8,56.2 421,67 421.3,63.9 421.3,65.8 421.5,66.9 421.8,59.1 421.9,58.7 422,58.9 422.3,54.6 422.5,53.1 422.5,56.8 422.8,62.7 422.9,74.1 423,72.6 423.3,66.3 423.5,69.9 423.6,67 423.8,61 424,64 424.2,55.9 424.3,52.9 424.5,56 424.8,52.2 424.8,49.1 425,72.1 425.2,80.1 425.3,75 425.5,76.3 425.8,67.3 425.9,68.1 426,68.1 426.3,58.9 426.5,60.1 426.8,50.3 427,46.6 427,50.1 427.3,66.9 427.4,78.1 427.5,71.2 427.6,58.2 427.8,57.2 428,70.4 428.2,66.5 428.3,63.7 428.5,68.3 428.8,55.9 428.8,55.9 429,64 429.3,65.4 429.4,68.4 429.5,57.9 429.8,41.8 429.8,35.6 430,66.7 430.2,83.1 430.3,75.3 430.5,75.7 430.8,61.9 431,64.9 431.1,59.8 431.3,56 431.5,72.1 431.7,68.4 431.8,54.2 432,36.6 432,43.1 432.3,66.8 432.4,86.1 432.5,81.4 432.8,74.7 433,71.3 433.3,57.5 433.4,55.9 433.5,60.4 433.8,61.2 434,70.9 434,66.8 434.3,38.7 434.3,32.1 434.5,65 434.7,85.1 434.8,77.5 435,76.7 435.3,62.8 435.5,66.9 435.7,56.4 435.8,55.8 436,69.9 436.3,64.4 436.3,64.3 436.5,59.7 436.8,42.3 436.8,37.6 437,68.3 437.2,83.1 437.3,74.2 437.5,78.9 437.8,62.5 438,57.7 438,58.6 438.3,61.6 438.5,72.3 438.6,72.5 438.8,51.4 439,34.1 439,40.8 439.3,62.6 439.4,85.1 439.5,80.9 439.8,70.1 440,70.9 440.3,55.7 440.3,55.3 440.5,65.1 440.8,65.2 440.9,71.8 441,70.6 441.3,47.5 441.5,44.2 441.7,34.1 441.8,39.9 442,80.5 442.1,87.1 442.3,75.1 442.5,62.3 442.6,56.3 442.8,57.8 443,73.6 443.2,73.7 443.3,67.2 443.5,60.2 443.8,43.8 444,40.1 444,48.7 444.3,68 444.4,83.1 444.5,77.2 444.8,58.6 444.9,57.1 445,65.3 445.3,64.8 445.5,73.1 445.5,72.8 445.8,62 446,62 446,60.9 446.3,51.5 446.5,48.8 446.7,44.1 446.8,47.8 447,79 447.1,83.1 447.3,78.8 447.5,76.2 447.8,69 447.8,69 448,69.7 448.3,56.1 448.5,53.6 448.8,46.5 448.9,42.1 449,59.7 449.3,76.2 449.3,80.6 449.5,60.5 449.5,61.4 449.8,59.3 450,69.8 450.1,69.4 450.3,60.9 450.5,64.3 450.6,58.9 450.8,57.8 451,66.6 451.2,66.6 451.3,64.3 451.5,63.4 451.8,50.2 451.9,47.6 452,63 452.3,72.3 452.3,78.1 452.5,73.3 452.8,59.7 452.9,59.9 453,62.9 453.3,60.2 453.5,70.4 453.5,70.4 453.8,61.4 454,59.1 454.1,56.6 454.3,59.6 454.5,69.1 454.5,68.6 454.8,64 455.1,64.7 455.2,60.9 455.4,59.8 455.7,68.6 455.8,65.9 456,60.8 456.3,64.7 456.4,63.3 456.7,61.2 457,65.1 457,65.2 457.4,61.3 457.5,63.7 457.7,67.3 458.1,59.2 458.1,59 458.5,64 458.7,62.5 458.9,61 459.3,65.8 459.3,66.5 459.7,60.1 459.8,61 460.1,64.2 460.4,63.4 460.5,62.8 460.9,66.7 461,66 461.3,62.3 461.6,63.9 461.7,65 462.1,59.7 462.1,59.7 462.6,66.1 462.7,64 463,61.2 463.3,65.7 463.4,66.5 463.8,59 463.9,60.7 464.2,65.2 464.4,61.2 464.6,59.5 465,65.3 465,64.8 465.4,61.5 465.6,64.4 465.8,66.9 466.2,60.4 466.2,60.1 466.6,63.8 466.7,62.7 467,61 467.3,63.8 467.4,64.6 467.8,61.1 467.9,62.1 468.2,66 468.5,63.4 468.6,61.7 469,65.4 469,65.4 469.5,62.1 469.6,63.2 469.9,64.9 470.2,60.7 470.3,59.8 470.7,65.9 470.8,64.9 471.1,61.6 471.3,63.3 471.5,64.3 471.9,60.8 471.9,60.9 472.3,64.9 472.5,62.6 472.7,59.5 473.1,63.5 473.1,64.3 473.6,59.7 473.6,60.7 474,64.1 474.2,61.7 474.4,60.2 474.8,66.2 474.8,66.2 475.2,62.3 475.4,63.3 475.6,64.8 475.9,61.4 476,60.5 476.4,64.7 476.5,64.3 476.9,62.6 477.1,64.5 477.3,65.9 477.7,61.5 477.7,61.3 478.1,63.9 478.2,63.5 478.5,62.8 478.8,64.4 478.9,65 479.4,61.9 479.4,62.4 479.8,66 480,64.2 480.2,62.4 480.5,63.2 480.6,63.3 481,59.9 481.1,61.1 481.4,64.6 481.7,61.8 481.9,60.1 482.3,65.1 482.3,65.1 482.7,60.1 482.8,62.4 483.1,66.3 483.4,63.6 483.5,62.7 484,64.2 484,64 484.4,62.3 484.6,64.3 484.8,66.3 485.1,61.6 485.2,60.7 485.6,66.2 485.7,64.9 486.1,59.8 486.3,63.2 486.5,65.8 486.9,60.5 486.9,60.2 487.3,66.2 487.4,64.7 487.7,61 488,64.2 488.2,65.8 488.6,59.9 488.6,60 489,64.7 489.2,63.8 489.4,62.3 489.7,64.5 489.9,65.3 490.3,62.8 490.3,62.9 490.7,64.2 490.9,63.2 491.1,61.8 491.5,64.9 491.6,65.7 492,62.9 492,63.1 492.4,64.2 492.6,63.2 492.8,62 493.2,64.7 493.3,65.3 493.7,60.3 493.8,61.1 494.1,64.7 494.3,62.5 494.6,60.4 494.9,64 495,64.5 495.4,61.5 495.5,62 495.8,64.2 496.1,63.2 496.3,62.4 496.6,65.5 496.7,65.9 497.1,61.2 497.2,61.8 497.6,64 497.8,62.6 498,61.4 498.4,64.1 498.4,64.4 498.9,62.8 498.9,63.4 499.3,65.2 499.5,62.6 499.7,60.5 500.1,64.5 500.1,65 500.6,62.5 500.7,62.9 501,64.4 501.2,63.3 501.4,62.4 501.8,63.5 501.9,63.7 502.3,62.1 502.4,62.8 502.7,65.7 503,63.1 503.2,60.6 503.5,64.7 503.6,65.4 504.1,60.4 504.1,60.9 504.5,63.5 504.7,63 504.9,62.4 505.3,63.2 505.4,63.4 505.8,62.9 505.8,63.2 506.2,64.9 506.4,63.6 506.7,61.9 507,64 507.1,64.7 507.5,60.7 507.6,60.9 508,64 508.1,63.4 508.4,62.3 508.7,64.4 508.9,65.3 509.3,62.9 509.3,62.9 509.7,65.6 509.9,64.5 510.2,62.1 510.4,62.8 510.6,63.3 511,62.5 511.1,62.4 511.5,63.4 511.6,62.9 511.9,60.9 512.2,62.2 512.4,63.4 512.7,62.9 512.8,62.8 513.3,64.7 513.3,64.4 513.7,62.5 513.9,63.1 514.2,64 514.5,62 514.6,61.1 515,64.2 515,64.2 515.5,61.3 515.6,62.1 515.9,63.9 516.2,63.2 516.4,62.7 516.8,63.3 516.8,63.4 517.3,61.1 517.3,61.5 517.7,63.5 517.9,63.2 518.2,62.8 518.5,63.4 518.6,63.6 519.1,61.8 519.1,62 519.5,64.7 519.6,63.8 520,61.9 520.2,63.5 520.4,64.6 520.8,62.2 520.8,61.9 521.3,64.8 521.4,64.3 521.7,61.7 521.9,62.6 522.2,63.6 522.5,63.6" fill="none" stroke="#525252" stroke-width="0.62" stroke-linejoin="round" />
<line x1="373.6" y1="63.1" x2="393.6" y2="63.1" stroke="#525252" stroke-width="0.8"/>
<line x1="373.6" y1="114.6" x2="373.6" y2="204.4" stroke="#646464" stroke-width="1"/>
<path d="M373.2,121.7h-1.2M373.2,133.2h-1.2M373.2,144.8h-1.2M373.2,156.4h-1.2M373.2,167.9h-1.2M373.2,179.4h-1.2M373.2,191h-1.2M373.2,202.6h-1.2" stroke="#646464" stroke-width="0.7" opacity="0.7"/>
<text x="365.8" y="137.4" text-anchor="end" font-size="10.3">0.3</text>
<text x="365.8" y="160.5" text-anchor="end" font-size="10.3">0.2</text>
<text x="365.8" y="183.5" text-anchor="end" font-size="10.3">0.1</text>
<text x="365.8" y="206.5" text-anchor="end" font-size="10.3">0</text>
<text transform="translate(321.4,160.8) rotate(-90)" text-anchor="middle" font-size="11.9">Absolute cough</text>
<text transform="translate(335.4,161.2) rotate(-90)" text-anchor="middle" font-size="11.9">sound , V</text>
<polygon points="373.6,202 373.6,201.3 374.1,201.1 374.5,201.1 374.9,200.9 375.4,201.3 375.8,201.2 376.3,201.2 376.7,201 377.2,201.3 377.6,200.9 378.1,201.4 378.5,201.1 379,200.9 379.4,201 379.9,201.3 380.3,201.4 380.8,200.9 381.2,200.8 381.7,201 382.1,201.2 382.6,200.9 383,201 383.5,201.2 383.9,201 384.4,201.1 384.8,201 385.3,201 385.7,201.3 386.2,200.8 386.6,200.8 387.1,201 387.5,200.9 388,201.4 388.4,201.3 388.9,200.9 389.3,201 389.8,201.1 390.2,201.3 390.7,201.1 391.1,201.1 391.6,201.2 392,201.4 392.5,201.1 392.9,201.3 393.4,201.4 393.8,200.2 394.3,199 394.7,199.5 395.2,198.7 395.6,196.1 396.1,195.9 396.5,191.1 397,190.4 397.4,190 397.9,183.4 398.3,184.2 398.8,188 399.2,187.8 399.7,182.7 400.1,185.1 400.6,176.8 401,187.3 401.5,183.8 401.9,184.7 402.4,176.7 402.8,174.8 403.3,176 403.7,184.6 404.2,174.9 404.6,187.5 405.1,182.6 405.5,174.4 406,174.8 406.4,188.1 406.9,180.1 407.3,187.3 407.8,182.9 408.2,187.4 408.7,188.9 409.1,185.6 409.6,185.5 410,187.1 410.5,187.3 410.9,189.6 411.4,185 411.8,191.2 412.3,186.3 412.7,188.3 413.2,187.9 413.6,193.5 414.1,188.5 414.5,185.9 415,189.9 415.4,186.7 415.9,190.7 416.3,192.7 416.8,188.1 417.2,188.2 417.7,194 418.1,188.6 418.6,191.1 419,188.1 419.5,191.8 419.9,193 420.4,188 420.8,190 421.3,188.3 421.7,194.3 422.2,189.2 422.6,188.8 423.1,191.5 423.5,193 424,193.2 424.4,187.2 424.9,187.8 425.3,185.9 425.8,190.8 426.2,186.7 426.7,188.3 427.1,187.1 427.6,186 428,191.1 428.5,181.6 428.9,186.9 429.4,184.2 429.8,190 430.3,189.2 430.7,177.7 431.2,186.4 431.6,179.2 432.1,183.1 432.5,178.4 433,179.5 433.4,175.7 433.9,179.8 434.3,187.7 434.8,186.5 435.2,177.6 435.7,181.7 436.1,179.5 436.6,175.8 437,180.8 437.5,176.2 437.9,178.5 438.4,181.1 438.8,184.4 439.3,175.5 439.7,180.1 440.2,187.1 440.6,185.4 441.1,174.7 441.5,187.3 442,181.2 442.4,186.8 442.9,180.4 443.3,178.4 443.8,187.4 444.2,175.3 444.7,182.4 445.1,175.1 445.6,183.3 446,180.7 446.5,185.2 446.9,186.9 447.4,183.2 447.8,177.8 448.3,184.2 448.7,186.7 449.2,188.8 449.6,190.8 450.1,185.9 450.5,187.5 451,185 451.4,189.9 451.9,192 452.3,187.3 452.8,189.8 453.2,195.3 453.7,194.2 454.1,196 454.6,193 455,196 455.5,196 455.9,195.3 456.4,194.9 456.8,195.6 457.3,196.9 457.7,195.9 458.2,197.4 458.6,196.7 459.1,198.4 459.5,196.7 460,197 460.4,198 460.9,198.7 461.3,199.3 461.8,197.9 462.2,198 462.7,199.3 463.1,197.9 463.6,196.9 464,197.4 464.5,198 464.9,197.5 465.4,197.6 465.8,198.4 466.3,198.6 466.7,198.1 467.2,199.4 467.6,199.2 468.1,199.5 468.5,197.4 469,197.8 469.4,198.7 469.9,199.3 470.3,199.7 470.8,198.2 471.2,198.8 471.7,197.6 472.1,198.6 472.6,199.5 473,198.4 473.5,199.7 473.9,198.7 474.4,198 474.8,198.9 475.3,198.8 475.7,197.8 476.2,198.3 476.6,198.6 477.1,199.7 477.5,198.3 478,199.1 478.4,198 478.9,198.6 479.3,198.9 479.8,198.6 480.2,199.6 480.7,199.1 481.1,197.9 481.6,198.8 482,198.8 482.5,199.4 482.9,198.7 483.4,199.5 483.8,198 484.3,199.4 484.7,198.8 485.2,198.4 485.6,198.6 486.1,198.4 486.5,198.8 487,199.7 487.4,198.7 487.9,198.1 488.3,199.7 488.8,198.4 489.2,199.2 489.7,199 490.1,199.4 490.6,198.9 491,199.1 491.5,199.2 491.9,199.2 492.4,198.7 492.8,198.6 493.3,199.4 493.7,199.9 494.2,199.2 494.6,199.7 495.1,199 495.5,198.4 496,199.9 496.4,200 496.9,200 497.3,199.4 497.8,200 498.2,200 498.7,199 499.1,199.1 499.6,199.5 500,199.1 500.5,200.1 500.9,199.2 501.4,198.5 501.8,198.7 502.3,198.7 502.7,199.8 503.2,198.6 503.6,199.6 504.1,200.1 504.5,200.2 505,199.5 505.4,199.4 505.9,200.3 506.3,199.4 506.8,200.2 507.2,200.1 507.7,199.9 508.1,199.4 508.6,199.2 509,199.3 509.5,199.4 509.9,199.8 510.4,199.7 510.8,199.5 511.3,199.9 511.7,199.1 512.2,199.2 512.6,200 513.1,200.2 513.5,199.6 514,200.3 514.4,199.1 514.9,199.1 515.3,200.5 515.8,200.4 516.2,199.3 516.7,200.5 517.1,200.5 517.6,199.8 518,200.3 518.5,200.1 518.9,200.1 519.4,200.5 519.8,200.2 520.3,199.8 520.7,199.9 521.2,199.8 521.6,200.2 522.1,200 522.5,200.5 522.6,202" fill="#1b8fe6" fill-opacity="0.75"/>
<polyline points="373.6,201 374.1,202 374.2,201.8 374.2,201.8 374.4,202 374.8,201.7 374.8,201.6 375,202 375.3,201.5 375.4,201.4 375.6,202 375.9,201.3 376,201 376.5,201.9 376.5,202 376.6,201.8 376.8,202 377,201.7 377.2,201.6 377.4,202 377.6,201.7 377.8,201.4 378.1,202 378.2,201.7 378.4,201.2 378.8,201.8 378.9,202 379,201.8 379.1,202 379.3,201.6 379.6,201.1 379.9,202 379.9,202 380.2,201.3 380.5,202 380.5,202 380.8,201.4 381.1,201.9 381.1,202 381.4,201.5 381.6,201.9 381.7,202 382,201.6 382.2,202 382.2,201.9 382.6,201 382.8,201.7 382.9,202 383.2,200.9 383.4,201.3 383.7,202 383.8,201.8 383.9,201.9 384.1,202 384.4,201.7 384.5,201.9 384.6,202 385,201.2 385.1,201.5 385.3,202 385.6,201.1 385.7,201.3 385.9,202 386.2,201 386.2,201.2 386.6,202 386.8,201.6 386.8,201.6 387.1,202 387.4,201.7 387.4,201.7 387.8,202 388,201.9 388,201.9 388.1,202 388.5,201.6 388.6,201.5 388.8,202 389.1,201.5 389.2,201.3 389.4,202 389.7,201.3 389.8,201 390.3,201.9 390.3,202 390.4,201.9 390.6,202 390.8,201.9 391,201.8 391.1,202 391.4,201.5 391.6,201.2 391.9,202 392,201.7 392.2,201.2 392.6,201.8 392.7,202 392.8,201.8 393,202 393.1,201.9 393.4,201.2 393.7,201 393.9,202 393.9,201.6 394.2,202 394.3,201.9 394.4,200.9 394.6,202 394.7,201.6 394.7,202 394.9,199.6 395,199.4 395.1,202 395.3,196.3 395.4,198.3 395.5,199 395.8,194.8 396,193.9 396.1,190.5 396.3,199.7 396.3,202 396.5,190.5 396.5,190.7 396.8,199.7 397,189.3 397.2,195.8 397.3,201.8 397.5,195.5 397.6,202 397.7,195.4 397.8,192.9 398,182.5 398.3,169 398.4,155.9 398.5,193.6 398.6,202 398.8,171.3 398.8,163.6 399,172.4 399.3,192.8 399.5,189.2 399.5,189.5 399.6,202 399.8,182.9 400,183.8 400.3,161.9 400.4,151.1 400.5,188.1 400.6,202 400.8,176.8 400.8,163.6 401,193.4 401.1,202 401.2,182 401.3,183.8 401.4,202 401.5,190 401.8,198.4 401.8,198.5 401.8,202 402,187.3 402.2,153 402.3,162.7 402.4,202 402.5,168.9 402.6,159.8 402.8,176.7 403,184.8 403.2,202 403.3,187 403.5,188.6 403.8,166.1 403.8,157.8 404,202 404,201.1 404.2,171.3 404.3,183.1 404.5,198.4 404.6,202 404.6,188.8 404.8,190 404.9,202 405,193.2 405.2,201 405.2,202 405.3,186.7 405.5,143.2 405.6,120.4 405.8,174.6 405.8,202 406,131.9 406,148.4 406.3,162.2 406.5,163.8 406.8,202 406.8,197.7 406.9,193.9 407,201.7 407.3,195.6 407.3,202 407.5,182.8 407.5,182.8 407.7,202 407.8,190.1 408,186.2 408.3,169.8 408.3,165.5 408.5,202 408.5,192.1 408.7,169.4 408.8,181.8 409,188.9 409.1,202 409.2,190.7 409.3,190.8 409.4,202 409.5,191.6 409.8,195.7 409.8,191.4 410,196.2 410.1,202 410.3,173.6 410.5,164 410.6,153 410.8,178.1 410.9,202 411,169.4 411,176.8 411.3,199.4 411.5,200.5 411.5,202 411.5,200.3 411.8,197.5 411.8,202 412,184.5 412.1,187.1 412.3,202 412.3,200.1 412.5,199.8 412.8,178.3 413,175.1 413,179.9 413.3,199.5 413.3,202 413.4,180.9 413.5,184.9 413.7,202 413.8,197.3 413.8,193.8 414,202 414,201.4 414.3,199.7 414.4,189.6 414.5,191.1 414.7,202 414.8,192.1 415,185.8 415.3,175.6 415.3,168.4 415.5,202 415.5,201.7 415.7,179 415.8,192.4 416,197.8 416.1,202 416.1,192.5 416.3,191.6 416.4,202 416.5,194 416.7,194.3 416.8,197.4 417,193.6 417.1,202 417.3,192.3 417.3,192.3 417.5,194.4 417.8,182.2 418,179 418,183.5 418.3,201 418.3,202 418.4,182.8 418.5,181.8 418.8,197.6 419,187.5 419,187.5 419.2,202 419.3,194.3 419.5,197.6 419.8,180.9 419.8,175.1 419.9,202 420,175.5 420.2,149.2 420.3,164.8 420.5,185.8 420.6,202 420.7,188.3 420.8,188.7 420.9,202 421,194.6 421.3,200.4 421.3,196.9 421.5,194.7 421.6,202 421.8,194.3 421.9,193.6 422,194 422.3,185.7 422.5,182.8 422.5,189.8 422.8,201.3 422.8,202 422.9,180.9 423,183.8 423.3,195.9 423.5,188.9 423.6,194.5 423.7,202 423.8,198 424,202 424,200.3 424,202 424.2,188.2 424.3,182.4 424.5,188.3 424.8,181.1 424.8,175.1 424.9,202 425,184.7 425.2,169.4 425.3,179.1 425.5,176.6 425.8,193.8 425.9,192.4 426,192.4 426.2,202 426.3,193.9 426.5,196.2 426.8,177.4 427,170.3 427,177 427.2,202 427.3,194.8 427.4,173.2 427.5,186.4 427.6,202 427.6,192.5 427.8,190.6 427.9,202 428,187.9 428.2,195.4 428.3,200.8 428.5,192 428.6,202 428.8,188.2 428.8,188.1 429,202 429,200.2 429.3,197.5 429.4,191.8 429.5,202 429.5,192.1 429.8,161.1 429.8,149.2 430,202 430,195 430.2,163.6 430.3,178.7 430.5,177.8 430.8,202 430.8,199.7 430.9,202 431,198.5 431.1,202 431.1,195.7 431.3,188.3 431.4,202 431.5,184.7 431.7,191.9 431.7,202 431.8,185 432,151.1 432,163.5 432.2,202 432.3,194.9 432.4,157.8 432.5,166.9 432.8,179.8 433,186.2 433.2,202 433.3,191.3 433.4,188.2 433.5,196.8 433.8,198.4 433.8,202 434,187 434,194.8 434.1,202 434.3,155.1 434.3,142.5 434.5,202 434.5,198.4 434.7,159.8 434.8,174.3 435,175.9 435.3,202 435.3,201.3 435.3,202 435.5,194.8 435.6,202 435.7,189.1 435.8,188 435.9,202 436,188.9 436.3,199.5 436.3,199.6 436.3,202 436.5,195.6 436.8,162.1 436.8,153 437,202 437,192.1 437.2,163.6 437.3,180.6 437.5,171.6 437.8,202 437.8,200.8 438,191.7 438,193.3 438.3,199.2 438.3,202 438.5,184.3 438.6,183.9 438.7,202 438.8,179.6 439,146.3 439,159.1 439.3,201.1 439.3,202 439.4,159.8 439.5,167.8 439.8,188.5 440,187.1 440.2,202 440.3,187.8 440.3,187 440.5,202 440.5,198.2 440.8,197.9 440.9,185.4 441,187.7 441.1,202 441.3,172.1 441.5,165.6 441.7,146.3 441.8,157.5 441.9,202 442,168.6 442.1,155.9 442.3,179 442.5,202 442.5,200.4 442.6,189 442.8,191.8 442.9,202 443,181.9 443.2,181.7 443.3,194.2 443.4,202 443.5,196.4 443.8,165 444,157.8 444,174.3 444.2,202 444.3,192.5 444.4,163.6 444.5,174.9 444.7,202 444.8,193.3 444.9,190.6 445,202 445,197.8 445.3,198.7 445.5,182.9 445.5,183.3 445.8,202 445.8,200 446,199.9 446,197.8 446.3,179.7 446.5,174.5 446.7,165.5 446.8,172.5 446.9,202 447,171.5 447.1,163.6 447.3,171.9 447.5,176.9 447.8,190.7 447.8,190.7 448,189.4 448.1,202 448.3,188.6 448.5,183.7 448.8,170.2 448.9,161.7 449,195.5 449.1,202 449.3,176.8 449.3,168.4 449.5,202 449.5,197 449.5,198.8 449.8,194.7 449.9,202 450,189.1 450.1,189.9 450.2,202 450.3,197.8 450.4,202 450.5,199.6 450.6,202 450.6,194 450.8,191.8 450.9,202 451,195.2 451.2,195.3 451.3,199.7 451.5,201.4 451.5,202 451.8,177.3 451.9,172.2 452,201.8 452,202 452.3,184.3 452.3,173.2 452.5,182.4 452.7,202 452.8,195.5 452.9,195.9 453,201.7 453.3,196.3 453.3,202 453.5,187.9 453.5,187.9 453.7,202 453.8,198.8 454,194.4 454.1,189.5 454.3,195.3 454.4,202 454.5,190.5 454.5,191.4 454.8,200.3 455.1,198.9 455.2,202 455.2,197.8 455.4,195.7 455.5,202 455.7,191.4 455.8,196.7 455.9,202 456,197.6 456.2,202 456.3,198.9 456.4,201.5 456.4,202 456.7,198.4 456.8,202 457,198.1 457,197.9 457.2,202 457.4,198.6 457.5,202 457.5,200.8 457.7,193.9 457.9,202 458.1,194.6 458.1,194.2 458.5,202 458.5,200.2 458.6,202 458.7,200.8 458.9,198 459.1,202 459.3,196.8 459.3,195.5 459.5,202 459.7,196.2 459.8,198 460,202 460.1,199.9 460.4,201.5 460.5,202 460.5,201.5 460.6,202 460.9,195.1 461,196.4 461.3,202 461.3,200.4 461.5,202 461.6,200.5 461.7,198.3 461.9,202 462.1,195.5 462.1,195.5 462.4,202 462.6,196.2 462.7,200.2 462.8,202 463,198.4 463.1,202 463.3,196.9 463.4,195.5 463.5,202 463.8,194.1 463.9,197.4 464,202 464.2,198 464.3,202 464.4,198.4 464.6,195.1 464.8,202 465,197.9 465,198.7 465.2,202 465.4,198.9 465.5,202 465.6,199.6 465.8,194.7 466,202 466.2,196.9 466.2,196.3 466.5,202 466.6,200.7 466.7,202 466.7,201.3 467,197.9 467.2,202 467.3,200.6 467.4,199 467.6,202 467.8,198.2 467.9,200 468,202 468.2,196.5 468.5,201.4 468.5,202 468.6,199.3 468.8,202 469,197.5 469,197.6 469.3,202 469.5,200 469.6,202 469.6,201.7 469.9,198.6 470,202 470.2,197.3 470.3,195.6 470.5,202 470.7,196.7 470.8,198.5 471,202 471.1,199.2 471.3,202 471.3,201.6 471.5,199.8 471.6,202 471.9,197.6 471.9,197.9 472.1,202 472.3,198.5 472.5,202 472.5,201 472.7,195.1 473,202 473.1,201.3 473.1,199.7 473.3,202 473.6,195.5 473.6,197.4 473.9,202 474,200.1 474.1,202 474.2,199.2 474.4,196.4 474.6,202 474.8,196 474.8,196.1 475.1,202 475.2,200.4 475.3,202 475.4,201.6 475.6,198.7 475.8,202 475.9,198.7 476,197 476.3,202 476.4,199 476.5,199.7 476.8,202 476.9,201 476.9,202 477.1,199.4 477.3,196.7 477.5,202 477.7,198.9 477.7,198.5 478,202 478.1,200.5 478.2,201.2 478.4,202 478.5,201.3 478.6,202 478.8,199.5 478.9,198.3 479.2,202 479.4,199.8 479.4,200.6 479.5,202 479.8,196.5 480,199.8 480.1,202 480.2,200.7 480.5,202 480.5,201.8 480.6,201.6 480.6,202 481,195.9 481.1,198.1 481.3,202 481.4,199 481.6,202 481.7,199.6 481.9,196.3 482.1,202 482.3,198.1 482.3,198.1 482.4,202 482.7,196.2 482.8,200.6 482.9,202 483.1,195.8 483.4,201 483.5,202 483.5,201.1 483.7,202 484,199.9 484,200.3 484.2,202 484.4,200.5 484.5,202 484.6,199.8 484.8,195.8 485,202 485.1,199.1 485.2,197.4 485.4,202 485.6,196 485.7,198.6 485.8,202 486.1,195.7 486.3,202 486.3,201.7 486.5,196.9 486.7,202 486.9,197.1 486.9,196.4 487.1,202 487.3,196 487.4,199 487.6,202 487.7,198 487.9,202 488,199.9 488.2,196.8 488.4,202 488.6,195.8 488.6,196 488.9,202 489,198.9 489.2,200.6 489.3,202 489.4,200.4 489.6,202 489.7,199.3 489.9,197.7 490.2,202 490.3,201.4 490.3,201.6 490.4,202 490.7,199.9 490.9,201.9 490.9,202 491.1,199.5 491.3,202 491.5,198.6 491.6,197 492,202 492,201.6 492,201.9 492.1,202 492.4,199.8 492.6,201.9 492.6,202 492.8,199.9 493,202 493.2,198.9 493.3,197.9 493.5,202 493.7,196.7 493.8,198.2 494,202 494.1,198.9 494.3,202 494.3,200.8 494.6,196.9 494.8,202 494.9,200.3 495,199.3 495.2,202 495.4,198.8 495.5,199.9 495.7,202 495.8,199.9 496.1,201.8 496.1,202 496.3,200.6 496.4,202 496.6,197.5 496.7,196.7 497,202 497.1,198.3 497.2,199.5 497.4,202 497.6,200.2 497.7,202 497.8,201 498,198.7 498.2,202 498.4,200.1 498.4,199.5 498.8,202 498.9,201.5 498.9,202 498.9,201.4 499.3,197.9 499.5,202 499.5,201 499.7,197 500,202 500.1,199.4 500.1,198.4 500.5,202 500.6,200.9 500.7,201.7 500.7,202 501,199.4 501.2,201.6 501.3,202 501.4,200.6 501.7,202 501.8,201.1 501.9,200.8 502.1,202 502.3,200.2 502.4,201.5 502.4,202 502.7,197 503,202 503,202 503.2,197.3 503.4,202 503.5,199 503.6,197.6 503.8,202 504.1,196.9 504.1,197.9 504.4,202 504.5,201.2 504.7,202 504.7,201.8 504.9,200.6 505.2,202 505.3,201.9 505.4,201.5 505.6,202 505.8,201.7 505.8,202 505.8,201.8 506.2,198.5 506.4,201 506.5,202 506.7,199.7 506.9,202 507,200.3 507.1,198.9 507.3,202 507.5,197.4 507.6,197.8 507.9,202 508,200.3 508.1,201.5 508.2,202 508.4,200.5 508.5,202 508.7,199.5 508.9,197.7 509.3,202 509.3,201.7 509.3,201.6 509.3,202 509.7,197.3 509.9,199.3 510.1,202 510.2,200.1 510.4,201.5 510.5,202 510.6,201.6 510.7,202 511,200.9 511.1,200.7 511.4,202 511.5,201.4 511.6,202 511.6,201.6 511.9,197.8 512.2,200.2 512.3,202 512.4,201.5 512.6,202 512.7,201.7 512.8,201.5 512.9,202 513.3,198.9 513.3,199.4 513.6,202 513.7,200.8 513.9,202 513.9,202 514.2,200.2 514.3,202 514.5,199.8 514.6,198.2 514.9,202 515,199.8 515,199.9 515.2,202 515.5,198.5 515.6,200 515.8,202 515.9,200.5 516.2,201.9 516.2,202 516.4,201.2 516.6,202 516.8,201.6 516.8,201.5 516.9,202 517.3,198.1 517.3,198.9 517.6,202 517.7,201.2 517.9,201.9 518,202 518.2,201.4 518.3,202 518.5,201.5 518.6,201.1 518.7,202 519.1,199.6 519.1,199.8 519.3,202 519.5,198.9 519.6,200.6 519.8,202 520,199.7 520.2,202 520.2,201.2 520.4,199.2 520.6,202 520.8,200.3 520.8,199.7 521,202 521.3,198.7 521.4,199.8 521.5,202 521.7,199.3 521.9,201 522.1,202 522.2,201.1 522.5,201.1" fill="#1b8fe6" stroke="#1b8fe6" stroke-width="0.65" stroke-linejoin="round" fill-opacity="0.5"/>
<line x1="373.6" y1="216.2" x2="373.6" y2="312.2" stroke="#646464" stroke-width="1"/>
<path d="M373.2,222.9h-1.2M373.2,231.5h-1.2M373.2,240.1h-1.2M373.2,248.6h-1.2M373.2,257.2h-1.2M373.2,265.8h-1.2M373.2,274.4h-1.2M373.2,283h-1.2M373.2,291.5h-1.2M373.2,300.1h-1.2M373.2,308.7h-1.2" stroke="#646464" stroke-width="0.7" opacity="0.7"/>
<line x1="373.1" y1="312.2" x2="522.6" y2="312.2" stroke="#646464" stroke-width="1"/>
<path d="M376.3,312.6v1.2M390.4,312.6v1.2M404.5,312.6v1.2M418.6,312.6v1.2M432.7,312.6v1.2M446.8,312.6v1.2M460.9,312.6v1.2M475,312.6v1.2M489.1,312.6v1.2M503.2,312.6v1.2M517.3,312.6v1.2" stroke="#646464" stroke-width="0.7" opacity="0.7"/>
<text x="365.9" y="236.6" text-anchor="end" font-size="10.4">90</text>
<text x="365.9" y="253.7" text-anchor="end" font-size="10.4">80</text>
<text x="365.9" y="270.9" text-anchor="end" font-size="10.4">70</text>
<text x="365.9" y="288.1" text-anchor="end" font-size="10.4">60</text>
<text x="365.9" y="305.4" text-anchor="end" font-size="10.4">50</text>
<text x="376.2" y="330.7" text-anchor="middle" font-size="10.1">0</text>
<text x="404" y="330.7" text-anchor="middle" font-size="10.1">0.05</text>
<text x="432.5" y="330.7" text-anchor="middle" font-size="10.1">0.1</text>
<text x="459.1" y="330.7" text-anchor="middle" font-size="10.1">0.15</text>
<text x="486.1" y="330.7" text-anchor="middle" font-size="10.1">0.2</text>
<text x="515.4" y="330.7" text-anchor="middle" font-size="10.1">0.25</text>
<text transform="translate(321.2,267) rotate(-90)" text-anchor="middle" font-size="11.9">Sound pressure</text>
<text transform="translate(335.4,268) rotate(-90)" text-anchor="middle" font-size="11.9">level, dB</text>
<text x="447" y="348.7" text-anchor="middle" font-size="11.9">Time, s</text>
<path d="M374.1,292.7 C374.4,292.2 375.3,290.7 376,290 C376.7,289.3 377.5,288.6 378.2,288.6 C378.9,288.6 379.4,288.6 380.2,290 C381,291.4 382,294.7 382.9,296.8 C383.8,298.9 385,301.3 385.7,302.4 C386.4,303.5 386.4,303.9 387,303.2 C387.6,302.5 388.3,302.2 389,298.2 C389.7,294.2 390.4,286.8 391.2,279 C392,271.2 393.1,259 394,251.4 C394.9,243.8 395.8,237.6 396.7,233.4 C397.6,229.2 398.5,228 399.5,226.5 C400.5,225 401.2,224.1 402.8,224.3 C404.4,224.5 406.9,226.7 409.1,227.5 C411.3,228.3 414,228.5 416,229 C418,229.5 419.2,230.7 421,230.4 C422.8,230.1 424.9,228 427,227 C429.1,226 431.4,224.8 433.9,224.3 C436.4,223.9 440,223.9 442.2,224.3 C444.4,224.7 445.8,225.2 447.3,226.6 C448.8,228 450.1,230.5 451.4,233 C452.7,235.5 453.7,238.9 455,241.4 C456.3,243.9 457.5,246.3 459.1,248.2 C460.7,250.1 462.9,251.4 464.5,253 C466.1,254.6 467.4,256.4 468.6,257.7 C469.9,259 470.9,260.4 472,260.7 C473.1,261 474.2,259.8 475.5,259.4 C476.8,259 478.2,258.3 479.6,258.4 C481,258.5 482,259.1 483.6,259.8 C485.2,260.5 487.5,261.7 489.1,262.5 C490.7,263.3 491.8,264.5 493.2,264.6 C494.6,264.7 495.8,263.3 497.3,263.2 C498.8,263.1 500.5,263.6 502.1,263.9 C503.7,264.2 505.2,265.1 506.8,265.2 C508.4,265.3 510.2,264.2 511.6,264.3 C513,264.4 513.8,265.2 515,265.9 C516.2,266.6 518.1,268 519.1,268.6 C520.1,269.2 520.6,269.3 521.2,269.3 C521.8,269.3 522.4,268.6 522.6,268.5" fill="none" stroke="#a272e0" stroke-width="1.1"/>
<line x1="403" y1="223.4" x2="452" y2="221.6" stroke="#484848" stroke-width="0.95"/>
<circle cx="402.7" cy="224.7" r="3.3" fill="none" stroke="#c0101a" stroke-width="2.2"/>
<text x="456.8" y="226.2" font-size="11.82">CPSL: 93.86 db</text>
<rect x="399.9" y="267.5" width="95.3" height="13.9" rx="3" ry="3" fill="none" stroke="#c0101a" stroke-width="1.4"/>
<text x="402.8" y="278.7" font-size="11.85">CPS: 309.7</text><text x="466.3" y="278.7" font-size="10.6">L/min</text>
<text x="403.1" y="293" font-size="11.85">CPF: 300.0</text><text x="466.3" y="293" font-size="10.6">L/min</text>
<text x="427.2" y="391.6" text-anchor="middle" font-size="11.5" letter-spacing="0.4" font-family="'Liberation Serif',serif">(<tspan font-weight="bold">b</tspan>)</text>
</svg>
</body>
</html>
